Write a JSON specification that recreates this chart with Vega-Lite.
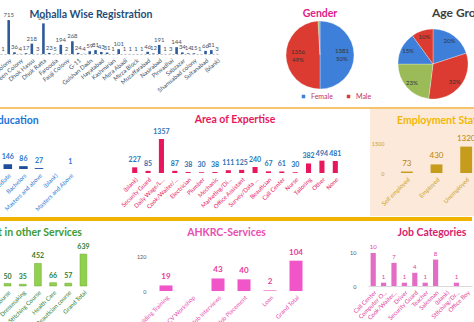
{
 "$schema": "https://vega.github.io/schema/vega-lite/v6.json",
 "background": "#ffffff",
 "padding": {"left": -49, "top": 7, "right": 0, "bottom": 0},
 "config": {
   "view": {"stroke": null},
   "font": "Lato",
   "axis": {"grid": false, "title": null, "labelFont": "Lato"},
   "title": {"font": "Lato", "fontWeight": "bold", "frame": "group"},
   "legend": {"labelFont": "Lato"},
   "text": {"font": "Lato"}
 },
 "bounds": "flush",
 "spacing": 92,
 "vconcat": [
  {"bounds": "flush", "spacing": 66, "hconcat": [
   {
    "width": 220, "height": 38,
    "title": {"text": "Mohalla Wise Registration", "color": "#1f4e79", "fontSize": 10.5, "anchor": "middle", "dx": -19, "offset": -8},
    "data": {"values": [
      {"area": "Amarpura", "n": 1}, {"area": "Bilal Colony", "n": 715}, {"area": "Chaklala", "n": 36}, {"area": "Green Colony", "n": 4},
      {"area": "Dhamial", "n": 17}, {"area": "Dhok Hassu", "n": 218}, {"area": "Dhok Kala Khan", "n": 3}, {"area": "Dhok Ratta", "n": 645},
      {"area": "Dhok Syedan", "n": 23}, {"area": "Farooqia", "n": 5}, {"area": "Farooq-e-Azam", "n": 194}, {"area": "Fauji Colony", "n": 2},
      {"area": "Gawalmandi", "n": 268}, {"area": "G-11", "n": 24}, {"area": "Ghori Town", "n": 4}, {"area": "Gulshan Dadn", "n": 59},
      {"area": "Gulzar-e-Quaid", "n": 81}, {"area": "Hayatabad", "n": 43}, {"area": "Jhanda Chichi", "n": 31}, {"area": "Kashmirian", "n": 1},
      {"area": "Kurri Road", "n": 101}, {"area": "Mera Abadi", "n": 1}, {"area": "Misrial", "n": 1}, {"area": "Mirza Block", "n": 1},
      {"area": "Morgah", "n": 1}, {"area": "Muzaffarabad", "n": 46}, {"area": "Muslim Town", "n": 12}, {"area": "Nasirabad", "n": 191},
      {"area": "Pindora", "n": 1}, {"area": "Pirwadhai", "n": 3}, {"area": "Qasimabad", "n": 144}, {"area": "Sabzazar", "n": 34},
      {"area": "Satellite Town", "n": 14}, {"area": "Shamsabad colony", "n": 15}, {"area": "Shah Khalid", "n": 1}, {"area": "Sultanabad", "n": 66},
      {"area": "Tench Bhata", "n": 81}, {"area": "(blank)", "n": 3}
    ]},
    "encoding": {
      "x": {"field": "area", "type": "nominal", "sort": null,
            "scale": {"paddingInner": 0.55, "paddingOuter": 0.275},
            "axis": {"values": ["Bilal Colony", "Green Colony", "Dhok Hassu", "Dhok Ratta", "Farooqia", "Fauji Colony", "G-11", "Gulshan Dadn", "Hayatabad", "Kashmirian", "Mera Abadi", "Mirza Block", "Muzaffarabad", "Nasirabad", "Pirwadhai", "Sabzazar", "Shamsabad colony", "Sultanabad", "(blank)"],
                     "labelAngle": -40, "labelFontSize": 6, "labelColor": "#44546a", "ticks": false, "domainColor": "#bfbfbf", "domainDash": [2, 2], "labelPadding": 3}},
      "y": {"field": "n", "type": "quantitative", "scale": {"domain": [0, 800], "nice": false}, "axis": null}
    },
    "layer": [
      {"mark": {"type": "bar", "color": "#2e5b9a"}},
      {"mark": {"type": "text", "baseline": "bottom", "dy": -2, "fontSize": 6, "color": "#44546a"}, "encoding": {"text": {"field": "n", "format": "d"}}}
    ]
   },
   {"bounds": "flush", "spacing": 44, "hconcat": [
    {
     "width": 68, "height": 78,
     "title": {"text": "Gender", "color": "#e0218a", "fontSize": 10.5, "offset": -3},
     "data": {"values": [{"g": "Female", "n": 1381, "p": 0.5}, {"g": "Male", "n": 1356, "p": 0.49}, {"g": "(blank)", "n": 25, "p": 0.01}]},
     "encoding": {
       "theta": {"field": "n", "type": "quantitative", "stack": true},
       "order": {"field": "n", "type": "quantitative", "sort": "descending"},
       "detail": {"field": "g"}
     },
     "layer": [
       {"mark": {"type": "arc", "outerRadius": 34, "stroke": "#ffffff", "strokeWidth": 0.3},
        "encoding": {"color": {"field": "g", "type": "nominal",
          "scale": {"domain": ["Female", "Male", "(blank)"], "range": ["#3d7fd9", "#db3b30", "#9bbb59"]},
          "legend": {"orient": "none", "legendX": 300, "legendY": 77, "direction": "horizontal", "values": ["Female", "Male"], "title": null, "labelFontSize": 7, "labelColor": "#c0306f", "symbolType": "square", "symbolSize": 25, "columnPadding": 10}}}},
       {"mark": {"type": "text", "radius": 22, "dy": -4, "fontSize": 6, "color": "#333333"},
        "encoding": {"text": {"field": "n", "format": "d"}, "opacity": {"condition": {"test": "datum.p < 0.05", "value": 0}, "value": 1}}},
       {"mark": {"type": "text", "radius": 22, "dy": 4, "fontSize": 6, "color": "#333333"},
        "encoding": {"text": {"field": "p", "format": ".0%"}, "opacity": {"condition": {"test": "datum.p < 0.05", "value": 0}, "value": 1}}}
     ]
    },
    {
     "width": 70, "height": 96,
     "title": {"text": "Age Group", "color": "#404040", "fontSize": 12, "anchor": "start", "dx": 34, "offset": -4},
     "data": {"values": [{"a": "18-25", "p": 0.20}, {"a": "26-35", "p": 0.32}, {"a": "36-45", "p": 0.23}, {"a": "46-60", "p": 0.15}, {"a": "Above 60", "p": 0.10}]},
     "encoding": {
       "theta": {"field": "p", "type": "quantitative", "stack": true},
       "order": {"field": "a", "type": "ordinal", "sort": "ascending"},
       "detail": {"field": "a"}
     },
     "layer": [
       {"mark": {"type": "arc", "outerRadius": 35, "stroke": "#ffffff", "strokeWidth": 0.3},
        "encoding": {"color": {"field": "a", "type": "nominal", "scale": {"domain": ["18-25", "26-35", "36-45", "46-60", "Above 60"], "range": ["#3d7fd9", "#db3b30", "#9dd64a", "#7b48a8", "#2fb7dc"]}, "legend": null}}},
       {"mark": {"type": "text", "radius": 28, "fontSize": 6, "color": "#333333"}, "encoding": {"text": {"field": "p", "format": ".0%"}}}
     ]
    }
   ]}
  ]},
  {"bounds": "flush", "spacing": 111, "vconcat": [
   {"bounds": "flush", "spacing": 0, "hconcat": [
    {
     "width": 128, "height": 61,
     "title": {"text": "Education", "color": "#1a73d9", "fontSize": 10.5, "anchor": "start", "dx": -8, "offset": -19},
     "data": {"values": [{"e": "Intermediate", "n": 146}, {"e": "Bachelors", "n": 86}, {"e": "Masters and above", "n": 27}, {"e": "(blank)", "n": null}, {"e": "Masters and Above", "n": 1}]},
     "layer": [
       {"encoding": {
          "x": {"field": "e", "type": "nominal", "sort": null, "scale": {"domain": ["Intermediate", "Bachelors", "Masters and above", "(blank)", "Masters and Above"], "range": [0, 78], "paddingInner": 0.45, "paddingOuter": 0.225},
                "axis": {"labelAngle": -45, "labelFontSize": 6, "labelColor": "#2a78d0", "ticks": false, "domain": false, "labelPadding": 3}},
          "y": {"field": "n", "type": "quantitative", "scale": {"domain": [0, 1830], "nice": false}, "axis": null}
        },
        "layer": [
          {"mark": {"type": "bar", "color": "#1f4e9a"}},
          {"mark": {"type": "text", "baseline": "bottom", "dy": -4, "fontSize": 7, "fontWeight": "bold", "color": "#2a78d0"}, "encoding": {"text": {"field": "n", "format": "d"}}}
        ]},
       {"mark": {"type": "rule", "color": "#f6c36e", "strokeWidth": 2}, "encoding": {"y": {"datum": 1830}}}
     ]
    },
    {
     "width": 242, "height": 65,
     "title": {"text": "Area of Expertise", "color": "#e8175d", "fontSize": 10.5, "dx": -14, "offset": -18},
     "data": {"values": [
       {"k": "(blank)", "n": 227}, {"k": "Security Guard", "n": 85}, {"k": "Daily Wage/Labour", "n": 1357}, {"k": "Cook/Waiter/Helper", "n": 87},
       {"k": "Electrician", "n": 38}, {"k": "Plumber", "n": 30}, {"k": "Mechanic", "n": 38}, {"k": "Marketing/Distribution", "n": 111},
       {"k": "Office Assistant", "n": 125}, {"k": "Survey/Data Collection", "n": 240}, {"k": "Beautician", "n": 67}, {"k": "Call Center", "n": 61},
       {"k": "Nurse", "n": 30}, {"k": "Tailoring", "n": 382}, {"k": "Other", "n": 494}, {"k": "None", "n": 481}
     ]},
     "layer": [
       {"encoding": {
          "x": {"field": "k", "type": "nominal", "sort": null, "scale": {"range": [0, 214], "paddingInner": 0.62, "paddingOuter": 0.31},
                "axis": {"labelAngle": -45, "labelFontSize": 6, "labelColor": "#e8175d", "ticks": false, "domain": false, "labelPadding": 3, "labelLimit": 42}},
          "y": {"field": "n", "type": "quantitative", "scale": {"domain": [0, 2600], "nice": false}, "axis": null}
        },
        "layer": [
          {"mark": {"type": "bar", "color": "#e8175d"}},
          {"mark": {"type": "text", "baseline": "bottom", "dy": -4, "fontSize": 7, "fontWeight": "bold", "color": "#2e75b6"}, "encoding": {"text": {"field": "n", "format": "d"}}}
        ]},
       {"mark": {"type": "rule", "color": "#f6c36e", "strokeWidth": 2}, "encoding": {"y": {"datum": 2600}}}
     ]
    },
    {
     "width": 132, "height": 108,
     "view": {"fill": "#fde9d9", "stroke": null},
     "title": {"text": "Employment Status", "color": "#f2b705", "fontSize": 10.5, "anchor": "start", "dx": 27, "offset": -19},
     "data": {"values": [{"s": "Self employed", "n": 73}, {"s": "Employed", "n": 430}, {"s": "Unemployed", "n": 1320}]},
     "layer": [
       {"encoding": {
          "x": {"field": "s", "type": "nominal", "sort": null, "scale": {"range": [22, 111], "paddingInner": 0.6, "paddingOuter": 0.3},
                "axis": {"offset": -43, "labelAngle": -45, "labelFontSize": 6, "labelColor": "#c9a227", "ticks": false, "domain": false, "labelPadding": 3}},
          "y": {"field": "n", "type": "quantitative", "scale": {"domain": [-2150, 3250], "nice": false},
                "axis": {"values": [0, 500, 1000, 1500], "format": "d", "offset": -16, "domain": false, "ticks": false, "labelFontSize": 5.5, "labelColor": "#c9a227", "labelPadding": 2}}
        },
        "layer": [
          {"mark": {"type": "bar", "color": "#c69c1d"}},
          {"mark": {"type": "text", "baseline": "bottom", "dy": -4, "fontSize": 8, "color": "#b8860b"}, "encoding": {"text": {"field": "n", "format": "d"}}}
        ]},
       {"mark": {"type": "rule", "color": "#f6c36e", "strokeWidth": 2}, "encoding": {"y": {"datum": 3250}}}
     ]
    }
   ]},
   {"bounds": "flush", "spacing": 0, "hconcat": [
    {
     "width": 153, "height": 67,
     "title": {"text": "Enrollment in other Services", "color": "#3d9b35", "fontSize": 10.5, "anchor": "start", "dx": -49, "offset": -21},
     "data": {"values": [{"c": "Computer Course", "n": 50}, {"c": "Dressmaking", "n": 35}, {"c": "Stitching Course", "n": 452}, {"c": "Health Care", "n": 66}, {"c": "Beautician course", "n": 57}, {"c": "Grand Total", "n": 639}]},
     "layer": [
       {"encoding": {
          "x": {"field": "c", "type": "nominal", "sort": null, "scale": {"range": [0, 91], "paddingInner": 0.55, "paddingOuter": 0.275},
                "axis": {"labelAngle": -45, "labelFontSize": 6, "labelColor": "#2e7d32", "ticks": false, "domain": false, "labelPadding": 3}},
          "y": {"field": "n", "type": "quantitative", "scale": {"domain": [0, 1340], "nice": false}, "axis": null}
        },
        "layer": [
          {"mark": {"type": "bar", "color": "#92d050", "stroke": "#6aa832", "strokeWidth": 0.5}},
          {"mark": {"type": "text", "baseline": "bottom", "dy": -4, "fontSize": 7, "fontWeight": "bold", "color": "#2e7d32"}, "encoding": {"text": {"field": "n", "format": "d"}}}
        ]},
       {"mark": {"type": "rule", "color": "#f0b400", "strokeWidth": 3}, "encoding": {"y": {"datum": 1340}}}
     ]
    },
    {
     "width": 215, "height": 72,
     "title": {"text": "AHKRC-Services", "color": "#e84fb0", "fontSize": 10.5, "dx": -34, "offset": -21},
     "data": {"values": [{"s": "Skill Building Training", "n": 19}, {"s": "CV Workshop", "n": null}, {"s": "Job Interviews", "n": 43}, {"s": "Job Placement", "n": 40}, {"s": "Loan", "n": 2}, {"s": "Grand Total", "n": 104}]},
     "layer": [
       {"encoding": {
          "x": {"field": "s", "type": "nominal", "sort": null, "scale": {"domain": ["Skill Building Training", "CV Workshop", "Job Interviews", "Job Placement", "Loan", "Grand Total"], "range": [0, 156], "paddingInner": 0.5, "paddingOuter": 0.25},
                "axis": {"labelAngle": -45, "labelFontSize": 6, "labelColor": "#e84fb0", "ticks": false, "domain": false, "labelPadding": 3}},
          "y": {"field": "n", "type": "quantitative", "scale": {"domain": [0, 246.86], "nice": false},
                "axis": {"values": [0, 20, 40, 60, 80, 100, 120], "domain": false, "ticks": false, "labelFontSize": 5.5, "labelColor": "#595959", "labelPadding": 7}}
        },
        "layer": [
          {"mark": {"type": "bar", "color": "#f056c8"}},
          {"mark": {"type": "text", "baseline": "bottom", "dy": -4, "fontSize": 8, "fontWeight": "bold", "color": "#e6399b"}, "encoding": {"text": {"field": "n", "format": "d"}}}
        ]},
       {"mark": {"type": "rule", "color": "#f0b400", "strokeWidth": 3}, "encoding": {"y": {"datum": 246.86}}}
     ]
    },
    {
     "width": 104, "height": 67,
     "title": {"text": "Job Categories", "color": "#d6246e", "fontSize": 10.5, "dx": 12, "offset": -21},
     "data": {"values": [{"j": "Call Center", "n": 10}, {"j": "Computer Operator", "n": 1}, {"j": "Cook/Waiter/Helper", "n": 7}, {"j": "Driver", "n": 1}, {"j": "Security Guard", "n": 4}, {"j": "Teacher", "n": 1}, {"j": "Salesman", "n": 8}, {"j": "(blank)", "n": null}, {"j": "Stitching/Dressmaking", "n": 1}, {"j": "Office Boy", "n": null}]},
     "layer": [
       {"encoding": {
          "x": {"field": "j", "type": "nominal", "sort": null, "scale": {"domain": ["Call Center", "Computer Operator", "Cook/Waiter/Helper", "Driver", "Security Guard", "Teacher", "Salesman", "(blank)", "Stitching/Dressmaking", "Office Boy"], "paddingInner": 0.5, "paddingOuter": 0.25},
                "axis": {"labelAngle": -45, "labelFontSize": 6, "labelColor": "#e0409a", "ticks": false, "domainColor": "#d9d9d9", "labelPadding": 3, "labelLimit": 40}},
          "y": {"field": "n", "type": "quantitative", "scale": {"domain": [0, 20.29], "nice": false},
                "axis": {"values": [0, 2, 4, 6, 8, 10], "domain": false, "ticks": false, "labelFontSize": 5.5, "labelColor": "#595959", "labelPadding": 12}}
        },
        "layer": [
          {"mark": {"type": "bar", "color": "#e36cc4"}},
          {"mark": {"type": "text", "baseline": "bottom", "dy": -3, "fontSize": 6, "color": "#e040a0"}, "encoding": {"text": {"field": "n", "format": "d"}}}
        ]},
       {"mark": {"type": "rule", "color": "#f0b400", "strokeWidth": 3}, "encoding": {"y": {"datum": 20.29}}}
     ]
    }
   ]}
  ]}
 ]
}
